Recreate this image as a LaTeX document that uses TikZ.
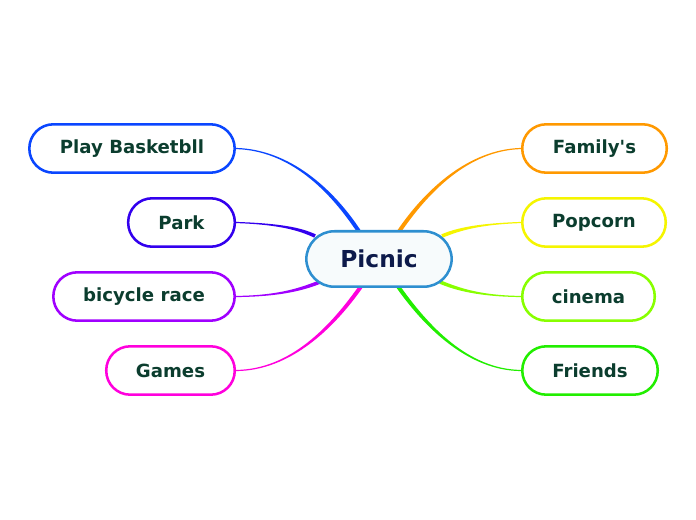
\documentclass[tikz,border=0pt]{standalone}
\usepackage{fontspec}
\setmainfont{DejaVu Sans}
\usetikzlibrary{calc}
\pgfdeclarelayer{bg}
\pgfsetlayers{bg,main}
\definecolor{txt}{HTML}{0B3D2E}
\definecolor{ctxt}{HTML}{0D1A4A}
\definecolor{cborder}{HTML}{2E8FD0}
\definecolor{cfill}{HTML}{F7FBFC}
\definecolor{cpb}{HTML}{0A46FF}
\definecolor{cpark}{HTML}{3300EE}
\definecolor{cbike}{HTML}{A000FF}
\definecolor{cgames}{HTML}{FF00DD}
\definecolor{cfam}{HTML}{FF9900}
\definecolor{cpop}{HTML}{F5F500}
\definecolor{ccin}{HTML}{88FF00}
\definecolor{cfri}{HTML}{22EE00}
\tikzset{
  leaf/.style={draw=#1, fill=white, line width=1.9pt, rounded corners=18pt,
    minimum height=36.3pt, inner sep=0pt, text=txt,
    font=\bfseries\fontsize{13.6}{15}\selectfont},
  center/.style={draw=cborder, fill=cfill, line width=1.9pt, rounded corners=21pt,
    minimum width=109pt, minimum height=41.6pt, inner sep=0pt, text=ctxt,
    font=\bfseries\fontsize{17.5}{19}\selectfont}
}
% color, start, c1, c2, end, end offset x, end offset y, start offset y
\newcommand\taper[8]{%
  \fill[#1] ($(#2)+(0,#8)$) .. controls ($(#3)+(0,#8)$) and ($(#4)+(#6,#7)$) .. ($(#5)+(#6,#7)$)
   -- ($(#5)-(#6,#7)$) .. controls ($(#4)-(#6,#7)$) and ($(#3)-(0,#8)$) .. ($(#2)-(0,#8)$) -- cycle;}
\begin{document}
\begin{tikzpicture}[x=0.75pt,y=-0.75pt]
\useasboundingbox (0,0) rectangle (696,520);
\begin{pgfonlayer}{bg}
\fill[white] (0,0) rectangle (696,520);
\end{pgfonlayer}
% nodes
\node[center] (pic) at (379,259) {Picnic};
\node[leaf=cpb, minimum width=154pt] (pb) at (132,148.5) {Play Basketbll};
\node[leaf=cpark, minimum width=80pt] (park) at (181.5,222.5) {Park};
\node[leaf=cbike, minimum width=136pt] (bike) at (144,296.5) {bicycle race};
\node[leaf=cgames, minimum width=96.4pt] (games) at (170.5,370.5) {Games};
\node[leaf=cfam, minimum width=108.4pt] (fam) at (594.5,148.5) {Family\textquotesingle s};
\node[leaf=cpop, minimum width=107.6pt] (pop) at (594,222.5) {Popcorn};
\node[leaf=ccin, minimum width=99.4pt] (cin) at (588.5,296.5) {cinema};
\node[leaf=cfri, minimum width=101.6pt] (fri) at (590,370.5) {Friends};
% connector ends on the centre node
\coordinate (e1) at (360,233);
\coordinate (e2) at (315,236);
\coordinate (e3) at (320,282);
\coordinate (e4) at (362,285);
\coordinate (e5) at (398,233);
\coordinate (e6) at (442,236);
\coordinate (e7) at (440,282);
\coordinate (e8) at (397,285);
\begin{pgfonlayer}{bg}
\taper{cpb}{pb.east}{290,150}{332,190}{e1}{-1.64}{1.15}{0.6}
\taper{cpark}{park.east}{280,224}{300,229}{e2}{-0.8}{1.6}{0.6}
\taper{cbike}{bike.east}{280,296}{302,289}{e3}{0.6}{1.7}{0.6}
\taper{cgames}{games.east}{290,370}{332,328}{e4}{1.6}{1.2}{0.6}
\taper{cfam}{fam.west}{469,150}{427,190}{e5}{1.62}{1.17}{0.6}
\taper{cpop}{pop.west}{479,224}{459,229}{e6}{0.7}{1.66}{0.6}
\taper{ccin}{cin.west}{479,296}{457,289}{e7}{-0.63}{1.68}{0.6}
\taper{cfri}{fri.west}{469,370}{427,328}{e8}{-1.62}{1.16}{0.6}
\end{pgfonlayer}
\end{tikzpicture}
\end{document}
